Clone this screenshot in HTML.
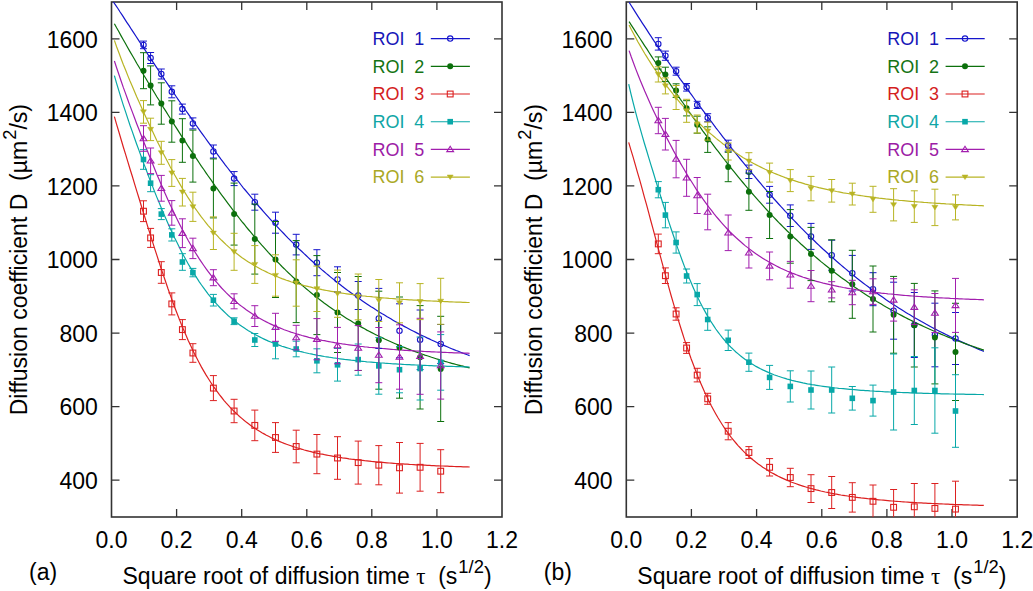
<!DOCTYPE html>
<html><head><meta charset="utf-8"><style>
html,body{margin:0;padding:0;background:#fff;}
svg{display:block;font-family:"Liberation Sans",sans-serif;}
</style></head><body>
<svg width="1033" height="591" viewBox="0 0 1033 591">
<rect width="1033" height="591" fill="#fff"/>
<rect x="111.5" y="2" width="390.5" height="515" fill="none" stroke="#333" stroke-width="1.6"/>
<text x="97.8" y="489.0" text-anchor="end" font-size="23">400</text>
<text x="97.8" y="415.4" text-anchor="end" font-size="23">600</text>
<text x="97.8" y="341.9" text-anchor="end" font-size="23">800</text>
<text x="97.8" y="268.3" text-anchor="end" font-size="23">1000</text>
<text x="97.8" y="194.7" text-anchor="end" font-size="23">1200</text>
<text x="97.8" y="121.2" text-anchor="end" font-size="23">1400</text>
<text x="97.8" y="47.6" text-anchor="end" font-size="23">1600</text>
<text x="111.5" y="548.3" text-anchor="middle" font-size="23">0.0</text>
<text x="176.6" y="548.3" text-anchor="middle" font-size="23">0.2</text>
<text x="241.7" y="548.3" text-anchor="middle" font-size="23">0.4</text>
<text x="306.8" y="548.3" text-anchor="middle" font-size="23">0.6</text>
<text x="371.8" y="548.3" text-anchor="middle" font-size="23">0.8</text>
<text x="436.9" y="548.3" text-anchor="middle" font-size="23">1.0</text>
<text x="502.0" y="548.3" text-anchor="middle" font-size="23">1.2</text>
<path d="M111.5 480.2H119.5M502 480.2H494M111.5 406.6H119.5M502 406.6H494M111.5 333.1H119.5M502 333.1H494M111.5 259.5H119.5M502 259.5H494M111.5 185.9H119.5M502 185.9H494M111.5 112.4H119.5M502 112.4H494M111.5 38.8H119.5M502 38.8H494M176.6 517V509M176.6 2V10M241.7 517V509M241.7 2V10M306.8 517V509M306.8 2V10M371.8 517V509M371.8 2V10M436.9 517V509M436.9 2V10" stroke="#333" stroke-width="1.3" fill="none"/>
<rect x="626.3" y="2" width="390.9000000000001" height="515" fill="none" stroke="#333" stroke-width="1.6"/>
<text x="612.5999999999999" y="489.0" text-anchor="end" font-size="23">400</text>
<text x="612.5999999999999" y="415.4" text-anchor="end" font-size="23">600</text>
<text x="612.5999999999999" y="341.9" text-anchor="end" font-size="23">800</text>
<text x="612.5999999999999" y="268.3" text-anchor="end" font-size="23">1000</text>
<text x="612.5999999999999" y="194.7" text-anchor="end" font-size="23">1200</text>
<text x="612.5999999999999" y="121.2" text-anchor="end" font-size="23">1400</text>
<text x="612.5999999999999" y="47.6" text-anchor="end" font-size="23">1600</text>
<text x="626.3" y="548.3" text-anchor="middle" font-size="23">0.0</text>
<text x="691.4" y="548.3" text-anchor="middle" font-size="23">0.2</text>
<text x="756.6" y="548.3" text-anchor="middle" font-size="23">0.4</text>
<text x="821.8" y="548.3" text-anchor="middle" font-size="23">0.6</text>
<text x="886.9" y="548.3" text-anchor="middle" font-size="23">0.8</text>
<text x="952.0" y="548.3" text-anchor="middle" font-size="23">1.0</text>
<text x="1017.2" y="548.3" text-anchor="middle" font-size="23">1.2</text>
<path d="M626.3 480.2H634.3M1017.2 480.2H1009.2M626.3 406.6H634.3M1017.2 406.6H1009.2M626.3 333.1H634.3M1017.2 333.1H1009.2M626.3 259.5H634.3M1017.2 259.5H1009.2M626.3 185.9H634.3M1017.2 185.9H1009.2M626.3 112.4H634.3M1017.2 112.4H1009.2M626.3 38.8H634.3M1017.2 38.8H1009.2M691.4 517V509M691.4 2V10M756.6 517V509M756.6 2V10M821.8 517V509M821.8 2V10M886.9 517V509M886.9 2V10M952.0 517V509M952.0 2V10" stroke="#333" stroke-width="1.3" fill="none"/>
<path d="M113.4 2.0 L115.6 5.1 L117.9 8.5 L120.1 12.0 L122.4 15.4 L124.6 18.9 L126.8 22.3 L129.1 25.7 L131.3 29.2 L133.6 32.6 L135.8 36.0 L138.0 39.4 L140.3 42.8 L142.5 46.3 L144.8 49.7 L147.0 53.0 L149.2 56.4 L151.5 59.8 L153.7 63.2 L156.0 66.6 L158.2 69.9 L160.4 73.3 L162.7 76.6 L164.9 80.0 L167.2 83.3 L169.4 86.6 L171.6 89.9 L173.9 93.2 L176.1 96.5 L178.4 99.8 L180.6 103.0 L182.8 106.3 L185.1 109.5 L187.3 112.7 L189.6 115.9 L191.8 119.1 L194.0 122.3 L196.3 125.5 L198.5 128.6 L200.8 131.8 L203.0 134.9 L205.3 138.0 L207.5 141.1 L209.7 144.1 L212.0 147.2 L214.2 150.2 L216.5 153.2 L218.7 156.2 L220.9 159.2 L223.2 162.1 L225.4 165.1 L227.7 168.0 L229.9 170.9 L232.1 173.7 L234.4 176.6 L236.6 179.4 L238.9 182.2 L241.1 185.0 L243.3 187.8 L245.6 190.5 L247.8 193.2 L250.1 195.9 L252.3 198.6 L254.5 201.2 L256.8 203.9 L259.0 206.5 L261.3 209.0 L263.5 211.6 L265.7 214.1 L268.0 216.6 L270.2 219.1 L272.5 221.6 L274.7 224.0 L276.9 226.4 L279.2 228.8 L281.4 231.1 L283.7 233.5 L285.9 235.8 L288.1 238.1 L290.4 240.4 L292.6 242.6 L294.9 244.8 L297.1 247.0 L299.3 249.2 L301.6 251.3 L303.8 253.4 L306.1 255.5 L308.3 257.6 L310.5 259.7 L312.8 261.7 L315.0 263.7 L317.3 265.7 L319.5 267.6 L321.7 269.6 L324.0 271.5 L326.2 273.4 L328.5 275.2 L330.7 277.1 L332.9 278.9 L335.2 280.7 L337.4 282.5 L339.7 284.2 L341.9 286.0 L344.1 287.7 L346.4 289.4 L348.6 291.1 L350.9 292.7 L353.1 294.3 L355.3 296.0 L357.6 297.5 L359.8 299.1 L362.1 300.7 L364.3 302.2 L366.5 303.7 L368.8 305.2 L371.0 306.7 L373.3 308.1 L375.5 309.6 L377.7 311.0 L380.0 312.4 L382.2 313.8 L384.5 315.1 L386.7 316.5 L389.0 317.8 L391.2 319.1 L393.4 320.4 L395.7 321.7 L397.9 322.9 L400.2 324.2 L402.4 325.4 L404.6 326.6 L406.9 327.8 L409.1 329.0 L411.4 330.2 L413.6 331.3 L415.8 332.4 L418.1 333.6 L420.3 334.7 L422.6 335.8 L424.8 336.8 L427.0 337.9 L429.3 338.9 L431.5 340.0 L433.8 341.0 L436.0 342.0 L438.2 343.0 L440.5 344.0 L442.7 344.9 L445.0 345.9 L447.2 346.8 L449.4 347.8 L451.7 348.7 L453.9 349.6 L456.2 350.5 L458.4 351.3 L460.6 352.2 L462.9 353.1 L465.1 353.9 L467.4 354.8 L469.6 355.6" fill="none" stroke="#1616cc" stroke-width="1.2"/>
<path d="M114.4 23.7 L116.6 27.8 L118.9 31.8 L121.1 35.9 L123.3 39.8 L125.6 43.8 L127.8 47.7 L130.0 51.6 L132.3 55.5 L134.5 59.3 L136.7 63.2 L139.0 67.0 L141.2 70.7 L143.4 74.5 L145.7 78.2 L147.9 82.0 L150.1 85.7 L152.4 89.4 L154.6 93.0 L156.8 96.7 L159.1 100.3 L161.3 103.9 L163.5 107.6 L165.8 111.1 L168.0 114.7 L170.2 118.3 L172.5 121.8 L174.7 125.4 L177.0 128.9 L179.2 132.4 L181.4 135.8 L183.7 139.3 L185.9 142.7 L188.1 146.2 L190.4 149.6 L192.6 152.9 L194.8 156.3 L197.1 159.7 L199.3 163.0 L201.5 166.3 L203.8 169.5 L206.0 172.8 L208.2 176.0 L210.5 179.2 L212.7 182.4 L214.9 185.6 L217.2 188.7 L219.4 191.8 L221.6 194.9 L223.9 197.9 L226.1 200.9 L228.3 203.9 L230.6 206.9 L232.8 209.8 L235.0 212.7 L237.3 215.6 L239.5 218.5 L241.7 221.3 L244.0 224.0 L246.2 226.8 L248.4 229.5 L250.7 232.2 L252.9 234.9 L255.1 237.5 L257.4 240.1 L259.6 242.6 L261.8 245.2 L264.1 247.7 L266.3 250.1 L268.5 252.6 L270.8 255.0 L273.0 257.3 L275.2 259.7 L277.5 262.0 L279.7 264.2 L281.9 266.5 L284.2 268.7 L286.4 270.9 L288.6 273.0 L290.9 275.1 L293.1 277.2 L295.4 279.2 L297.6 281.3 L299.8 283.3 L302.1 285.2 L304.3 287.1 L306.5 289.0 L308.8 290.9 L311.0 292.7 L313.2 294.5 L315.5 296.3 L317.7 298.1 L319.9 299.8 L322.2 301.5 L324.4 303.2 L326.6 304.8 L328.9 306.4 L331.1 308.0 L333.3 309.6 L335.6 311.1 L337.8 312.6 L340.0 314.1 L342.3 315.6 L344.5 317.0 L346.7 318.4 L349.0 319.8 L351.2 321.1 L353.4 322.5 L355.7 323.8 L357.9 325.1 L360.1 326.4 L362.4 327.6 L364.6 328.8 L366.8 330.1 L369.1 331.2 L371.3 332.4 L373.5 333.5 L375.8 334.7 L378.0 335.8 L380.2 336.9 L382.5 337.9 L384.7 339.0 L386.9 340.0 L389.2 341.0 L391.4 342.0 L393.6 343.0 L395.9 344.0 L398.1 344.9 L400.3 345.8 L402.6 346.8 L404.8 347.6 L407.0 348.5 L409.3 349.4 L411.5 350.2 L413.8 351.1 L416.0 351.9 L418.2 352.7 L420.5 353.5 L422.7 354.3 L424.9 355.1 L427.2 355.8 L429.4 356.5 L431.6 357.3 L433.9 358.0 L436.1 358.7 L438.3 359.4 L440.6 360.1 L442.8 360.7 L445.0 361.4 L447.3 362.0 L449.5 362.7 L451.7 363.3 L454.0 363.9 L456.2 364.5 L458.4 365.1 L460.7 365.7 L462.9 366.2 L465.1 366.8 L467.4 367.4 L469.6 367.9" fill="none" stroke="#0c700c" stroke-width="1.2"/>
<path d="M114.4 116.6 L116.6 124.3 L118.9 132.0 L121.1 139.5 L123.3 147.0 L125.6 154.4 L127.8 161.7 L130.0 169.0 L132.3 176.3 L134.5 183.6 L136.7 190.9 L139.0 198.2 L141.2 205.5 L143.4 212.7 L145.7 219.9 L147.9 227.1 L150.2 234.3 L152.4 241.4 L154.6 248.4 L156.9 255.4 L159.1 262.3 L161.3 269.1 L163.6 275.8 L165.8 282.3 L168.0 288.8 L170.3 295.1 L172.5 301.3 L174.7 307.3 L177.0 313.2 L179.2 318.9 L181.4 324.5 L183.7 329.9 L185.9 335.1 L188.1 340.2 L190.4 345.1 L192.6 349.8 L194.8 354.4 L197.1 358.8 L199.3 363.0 L201.5 367.1 L203.8 371.1 L206.0 374.9 L208.3 378.5 L210.5 382.0 L212.7 385.4 L215.0 388.6 L217.2 391.7 L219.4 394.7 L221.7 397.5 L223.9 400.3 L226.1 402.9 L228.4 405.4 L230.6 407.8 L232.8 410.1 L235.1 412.3 L237.3 414.4 L239.5 416.5 L241.8 418.4 L244.0 420.3 L246.2 422.1 L248.5 423.8 L250.7 425.4 L252.9 427.0 L255.2 428.5 L257.4 429.9 L259.6 431.3 L261.9 432.7 L264.1 433.9 L266.4 435.2 L268.6 436.3 L270.8 437.5 L273.1 438.6 L275.3 439.6 L277.5 440.6 L279.8 441.6 L282.0 442.5 L284.2 443.4 L286.5 444.2 L288.7 445.0 L290.9 445.8 L293.2 446.6 L295.4 447.3 L297.6 448.0 L299.9 448.7 L302.1 449.3 L304.3 450.0 L306.6 450.6 L308.8 451.2 L311.0 451.7 L313.3 452.3 L315.5 452.8 L317.7 453.3 L320.0 453.8 L322.2 454.2 L324.5 454.7 L326.7 455.1 L328.9 455.5 L331.2 455.9 L333.4 456.3 L335.6 456.7 L337.9 457.1 L340.1 457.4 L342.3 457.8 L344.6 458.1 L346.8 458.4 L349.0 458.8 L351.3 459.1 L353.5 459.3 L355.7 459.6 L358.0 459.9 L360.2 460.2 L362.4 460.4 L364.7 460.7 L366.9 460.9 L369.1 461.1 L371.4 461.4 L373.6 461.6 L375.8 461.8 L378.1 462.0 L380.3 462.2 L382.6 462.4 L384.8 462.6 L387.0 462.8 L389.3 463.0 L391.5 463.1 L393.7 463.3 L396.0 463.5 L398.2 463.6 L400.4 463.8 L402.7 463.9 L404.9 464.1 L407.1 464.2 L409.4 464.4 L411.6 464.5 L413.8 464.6 L416.1 464.8 L418.3 464.9 L420.5 465.0 L422.8 465.1 L425.0 465.2 L427.2 465.3 L429.5 465.4 L431.7 465.6 L433.9 465.7 L436.2 465.8 L438.4 465.9 L440.7 466.0 L442.9 466.0 L445.1 466.1 L447.4 466.2 L449.6 466.3 L451.8 466.4 L454.1 466.5 L456.3 466.6 L458.5 466.6 L460.8 466.7 L463.0 466.8 L465.2 466.9 L467.5 466.9 L469.7 467.0" fill="none" stroke="#dc2020" stroke-width="1.2"/>
<path d="M114.4 75.7 L116.6 83.4 L118.9 90.9 L121.1 98.1 L123.3 105.1 L125.6 111.9 L127.8 118.6 L130.0 125.2 L132.3 131.6 L134.5 138.0 L136.7 144.2 L139.0 150.4 L141.2 156.5 L143.4 162.6 L145.7 168.5 L147.9 174.4 L150.1 180.2 L152.4 185.9 L154.6 191.6 L156.8 197.1 L159.1 202.6 L161.3 208.0 L163.5 213.2 L165.8 218.4 L168.0 223.5 L170.2 228.4 L172.5 233.3 L174.7 238.0 L177.0 242.6 L179.2 247.1 L181.4 251.4 L183.7 255.7 L185.9 259.8 L188.1 263.7 L190.4 267.6 L192.6 271.3 L194.8 274.9 L197.1 278.4 L199.3 281.8 L201.5 285.0 L203.8 288.2 L206.0 291.2 L208.2 294.1 L210.5 296.9 L212.7 299.6 L214.9 302.1 L217.2 304.6 L219.4 307.0 L221.6 309.3 L223.9 311.5 L226.1 313.6 L228.3 315.7 L230.6 317.6 L232.8 319.5 L235.0 321.3 L237.3 323.0 L239.5 324.7 L241.7 326.3 L244.0 327.8 L246.2 329.3 L248.4 330.7 L250.7 332.0 L252.9 333.3 L255.1 334.6 L257.4 335.8 L259.6 336.9 L261.8 338.0 L264.1 339.1 L266.3 340.1 L268.5 341.1 L270.8 342.0 L273.0 342.9 L275.2 343.8 L277.5 344.6 L279.7 345.4 L281.9 346.2 L284.2 346.9 L286.4 347.6 L288.6 348.3 L290.9 349.0 L293.1 349.6 L295.4 350.2 L297.6 350.8 L299.8 351.4 L302.1 351.9 L304.3 352.5 L306.5 353.0 L308.8 353.5 L311.0 353.9 L313.2 354.4 L315.5 354.8 L317.7 355.3 L319.9 355.7 L322.2 356.1 L324.4 356.5 L326.6 356.8 L328.9 357.2 L331.1 357.5 L333.3 357.9 L335.6 358.2 L337.8 358.5 L340.0 358.8 L342.3 359.1 L344.5 359.4 L346.7 359.6 L349.0 359.9 L351.2 360.2 L353.4 360.4 L355.7 360.7 L357.9 360.9 L360.1 361.1 L362.4 361.3 L364.6 361.5 L366.8 361.8 L369.1 362.0 L371.3 362.1 L373.5 362.3 L375.8 362.5 L378.0 362.7 L380.2 362.9 L382.5 363.0 L384.7 363.2 L386.9 363.3 L389.2 363.5 L391.4 363.7 L393.6 363.8 L395.9 363.9 L398.1 364.1 L400.3 364.2 L402.6 364.3 L404.8 364.5 L407.0 364.6 L409.3 364.7 L411.5 364.8 L413.8 364.9 L416.0 365.0 L418.2 365.1 L420.5 365.2 L422.7 365.3 L424.9 365.4 L427.2 365.5 L429.4 365.6 L431.6 365.7 L433.9 365.8 L436.1 365.9 L438.3 366.0 L440.6 366.1 L442.8 366.1 L445.0 366.2 L447.3 366.3 L449.5 366.4 L451.7 366.4 L454.0 366.5 L456.2 366.6 L458.4 366.7 L460.7 366.7 L462.9 366.8 L465.1 366.8 L467.4 366.9 L469.6 367.0" fill="none" stroke="#08a8a8" stroke-width="1.2"/>
<path d="M114.4 61.0 L116.6 67.8 L118.9 74.5 L121.1 81.0 L123.3 87.4 L125.6 93.6 L127.8 99.8 L130.0 105.9 L132.3 111.9 L134.5 117.8 L136.7 123.7 L139.0 129.5 L141.2 135.3 L143.4 141.0 L145.7 146.7 L147.9 152.3 L150.1 157.8 L152.4 163.3 L154.6 168.8 L156.8 174.2 L159.1 179.5 L161.3 184.7 L163.5 189.9 L165.8 194.9 L168.0 199.9 L170.2 204.8 L172.5 209.6 L174.7 214.3 L177.0 218.9 L179.2 223.4 L181.4 227.8 L183.7 232.1 L185.9 236.2 L188.1 240.3 L190.4 244.2 L192.6 248.1 L194.8 251.8 L197.1 255.4 L199.3 258.9 L201.5 262.2 L203.8 265.5 L206.0 268.7 L208.2 271.7 L210.5 274.7 L212.7 277.5 L214.9 280.3 L217.2 282.9 L219.4 285.5 L221.6 288.0 L223.9 290.3 L226.1 292.6 L228.3 294.8 L230.6 297.0 L232.8 299.0 L235.0 301.0 L237.3 302.9 L239.5 304.7 L241.7 306.4 L244.0 308.1 L246.2 309.8 L248.4 311.3 L250.7 312.8 L252.9 314.3 L255.1 315.7 L257.4 317.0 L259.6 318.3 L261.8 319.5 L264.1 320.7 L266.3 321.9 L268.5 323.0 L270.8 324.1 L273.0 325.1 L275.2 326.1 L277.5 327.0 L279.7 327.9 L281.9 328.8 L284.2 329.7 L286.4 330.5 L288.6 331.3 L290.9 332.1 L293.1 332.8 L295.4 333.5 L297.6 334.2 L299.8 334.8 L302.1 335.5 L304.3 336.1 L306.5 336.7 L308.8 337.3 L311.0 337.8 L313.2 338.3 L315.5 338.9 L317.7 339.4 L319.9 339.8 L322.2 340.3 L324.4 340.7 L326.6 341.2 L328.9 341.6 L331.1 342.0 L333.3 342.4 L335.6 342.8 L337.8 343.2 L340.0 343.5 L342.3 343.9 L344.5 344.2 L346.7 344.5 L349.0 344.8 L351.2 345.1 L353.4 345.4 L355.7 345.7 L357.9 346.0 L360.1 346.3 L362.4 346.5 L364.6 346.8 L366.8 347.0 L369.1 347.3 L371.3 347.5 L373.5 347.7 L375.8 347.9 L378.0 348.1 L380.2 348.3 L382.5 348.5 L384.7 348.7 L386.9 348.9 L389.2 349.1 L391.4 349.3 L393.6 349.5 L395.9 349.6 L398.1 349.8 L400.3 350.0 L402.6 350.1 L404.8 350.3 L407.0 350.4 L409.3 350.6 L411.5 350.7 L413.8 350.8 L416.0 351.0 L418.2 351.1 L420.5 351.2 L422.7 351.3 L424.9 351.5 L427.2 351.6 L429.4 351.7 L431.6 351.8 L433.9 351.9 L436.1 352.0 L438.3 352.1 L440.6 352.2 L442.8 352.3 L445.0 352.4 L447.3 352.5 L449.5 352.6 L451.7 352.7 L454.0 352.8 L456.2 352.8 L458.4 352.9 L460.7 353.0 L462.9 353.1 L465.1 353.2 L467.4 353.2 L469.6 353.3" fill="none" stroke="#a21eae" stroke-width="1.2"/>
<path d="M114.4 40.4 L116.6 46.7 L118.9 52.8 L121.1 58.7 L123.3 64.5 L125.6 70.1 L127.8 75.6 L130.0 81.0 L132.3 86.3 L134.5 91.5 L136.7 96.7 L139.0 101.8 L141.2 106.8 L143.4 111.8 L145.7 116.7 L147.9 121.5 L150.1 126.3 L152.4 131.1 L154.6 135.8 L156.8 140.4 L159.1 144.9 L161.3 149.5 L163.5 153.9 L165.8 158.3 L168.0 162.6 L170.2 166.8 L172.5 170.9 L174.7 175.0 L177.0 179.0 L179.2 182.9 L181.4 186.7 L183.7 190.5 L185.9 194.1 L188.1 197.7 L190.4 201.1 L192.6 204.5 L194.8 207.8 L197.1 211.0 L199.3 214.1 L201.5 217.1 L203.8 220.0 L206.0 222.8 L208.2 225.6 L210.5 228.2 L212.7 230.8 L214.9 233.3 L217.2 235.7 L219.4 238.1 L221.6 240.3 L223.9 242.5 L226.1 244.6 L228.3 246.6 L230.6 248.6 L232.8 250.5 L235.0 252.3 L237.3 254.0 L239.5 255.7 L241.7 257.4 L244.0 258.9 L246.2 260.5 L248.4 261.9 L250.7 263.3 L252.9 264.7 L255.1 266.0 L257.4 267.3 L259.6 268.5 L261.8 269.7 L264.1 270.8 L266.3 271.9 L268.5 273.0 L270.8 274.0 L273.0 275.0 L275.2 275.9 L277.5 276.8 L279.7 277.7 L281.9 278.6 L284.2 279.4 L286.4 280.2 L288.6 280.9 L290.9 281.7 L293.1 282.4 L295.4 283.1 L297.6 283.7 L299.8 284.4 L302.1 285.0 L304.3 285.6 L306.5 286.1 L308.8 286.7 L311.0 287.2 L313.2 287.8 L315.5 288.3 L317.7 288.7 L319.9 289.2 L322.2 289.7 L324.4 290.1 L326.6 290.5 L328.9 290.9 L331.1 291.3 L333.3 291.7 L335.6 292.1 L337.8 292.5 L340.0 292.8 L342.3 293.2 L344.5 293.5 L346.7 293.8 L349.0 294.1 L351.2 294.4 L353.4 294.7 L355.7 295.0 L357.9 295.3 L360.1 295.5 L362.4 295.8 L364.6 296.0 L366.8 296.3 L369.1 296.5 L371.3 296.7 L373.5 297.0 L375.8 297.2 L378.0 297.4 L380.2 297.6 L382.5 297.8 L384.7 298.0 L386.9 298.2 L389.2 298.4 L391.4 298.5 L393.6 298.7 L395.9 298.9 L398.1 299.0 L400.3 299.2 L402.6 299.3 L404.8 299.5 L407.0 299.6 L409.3 299.8 L411.5 299.9 L413.8 300.1 L416.0 300.2 L418.2 300.3 L420.5 300.4 L422.7 300.6 L424.9 300.7 L427.2 300.8 L429.4 300.9 L431.6 301.0 L433.9 301.1 L436.1 301.2 L438.3 301.3 L440.6 301.4 L442.8 301.5 L445.0 301.6 L447.3 301.7 L449.5 301.8 L451.7 301.9 L454.0 302.0 L456.2 302.1 L458.4 302.1 L460.7 302.2 L462.9 302.3 L465.1 302.4 L467.4 302.5 L469.6 302.5" fill="none" stroke="#b8b424" stroke-width="1.2"/>
<path d="M143.5 41.1V48.7M140.0 41.1H147.0M140.0 48.7H147.0M150.6 52.5V63.5M147.1 52.5H154.1M147.1 63.5H154.1M161.3 69.0V79.0M157.8 69.0H164.8M157.8 79.0H164.8M171.8 85.8V97.8M168.3 85.8H175.3M168.3 97.8H175.3M182.4 104.1V114.1M178.9 104.1H185.9M178.9 114.1H185.9M192.9 117.9V128.9M189.4 117.9H196.4M189.4 128.9H196.4M213.4 145.0V158.0M209.9 145.0H216.9M209.9 158.0H216.9M234.1 171.6V185.6M230.6 171.6H237.6M230.6 185.6H237.6M254.8 194.2V210.2M251.3 194.2H258.3M251.3 210.2H258.3M275.5 212.2V233.2M272.0 212.2H279.0M272.0 233.2H279.0M296.2 234.3V254.9M292.7 234.3H299.7M292.7 254.9H299.7M316.9 249.7V275.7M313.4 249.7H320.4M313.4 275.7H320.4M337.5 266.8V292.0M334.0 266.8H341.0M334.0 292.0H341.0M358.2 281.5V309.5M354.7 281.5H361.7M354.7 309.5H361.7M378.8 288.4V348.4M375.3 288.4H382.3M375.3 348.4H382.3M399.5 303.8V357.8M396.0 303.8H403.0M396.0 357.8H403.0M420.1 310.0V369.6M416.6 310.0H423.6M416.6 369.6H423.6M440.7 324.5V363.5M437.2 324.5H444.2M437.2 363.5H444.2" fill="none" stroke="#1616cc" stroke-width="1.0"/>
<circle cx="143.5" cy="44.9" r="2.7" fill="none" stroke="#1616cc" stroke-width="1.1"/>
<circle cx="150.6" cy="58.0" r="2.7" fill="none" stroke="#1616cc" stroke-width="1.1"/>
<circle cx="161.3" cy="74.0" r="2.7" fill="none" stroke="#1616cc" stroke-width="1.1"/>
<circle cx="171.8" cy="91.8" r="2.7" fill="none" stroke="#1616cc" stroke-width="1.1"/>
<circle cx="182.4" cy="109.1" r="2.7" fill="none" stroke="#1616cc" stroke-width="1.1"/>
<circle cx="192.9" cy="123.4" r="2.7" fill="none" stroke="#1616cc" stroke-width="1.1"/>
<circle cx="213.4" cy="151.5" r="2.7" fill="none" stroke="#1616cc" stroke-width="1.1"/>
<circle cx="234.1" cy="178.6" r="2.7" fill="none" stroke="#1616cc" stroke-width="1.1"/>
<circle cx="254.8" cy="202.2" r="2.7" fill="none" stroke="#1616cc" stroke-width="1.1"/>
<circle cx="275.5" cy="222.7" r="2.7" fill="none" stroke="#1616cc" stroke-width="1.1"/>
<circle cx="296.2" cy="244.6" r="2.7" fill="none" stroke="#1616cc" stroke-width="1.1"/>
<circle cx="316.9" cy="262.7" r="2.7" fill="none" stroke="#1616cc" stroke-width="1.1"/>
<circle cx="337.5" cy="279.4" r="2.7" fill="none" stroke="#1616cc" stroke-width="1.1"/>
<circle cx="358.2" cy="295.5" r="2.7" fill="none" stroke="#1616cc" stroke-width="1.1"/>
<circle cx="378.8" cy="318.4" r="2.7" fill="none" stroke="#1616cc" stroke-width="1.1"/>
<circle cx="399.5" cy="330.8" r="2.7" fill="none" stroke="#1616cc" stroke-width="1.1"/>
<circle cx="420.1" cy="339.8" r="2.7" fill="none" stroke="#1616cc" stroke-width="1.1"/>
<circle cx="440.7" cy="344.0" r="2.7" fill="none" stroke="#1616cc" stroke-width="1.1"/>
<path d="M143.5 52.7V88.7M140.0 52.7H147.0M140.0 88.7H147.0M150.6 65.9V104.9M147.1 65.9H154.1M147.1 104.9H154.1M161.3 82.8V124.2M157.8 82.8H164.8M157.8 124.2H164.8M171.8 100.8V142.2M168.3 100.8H175.3M168.3 142.2H175.3M182.4 118.7V162.3M178.9 118.7H185.9M178.9 162.3H185.9M192.9 130.1V182.1M189.4 130.1H196.4M189.4 182.1H196.4M213.4 158.9V217.9M209.9 158.9H216.9M209.9 217.9H216.9M234.1 183.1V245.1M230.6 183.1H237.6M230.6 245.1H237.6M254.8 204.1V274.1M251.3 204.1H258.3M251.3 274.1H258.3M275.5 221.5V297.5M272.0 221.5H279.0M272.0 297.5H279.0M296.2 240.6V322.6M292.7 240.6H299.7M292.7 322.6H299.7M316.9 255.6V334.6M313.4 255.6H320.4M313.4 334.6H320.4M337.5 272.5V352.5M334.0 272.5H341.0M334.0 352.5H341.0M358.2 276.5V370.5M354.7 276.5H361.7M354.7 370.5H361.7M378.8 291.2V389.2M375.3 291.2H382.3M375.3 389.2H382.3M399.5 297.0V398.2M396.0 297.0H403.0M396.0 398.2H403.0M420.1 305.6V409.0M416.6 305.6H423.6M416.6 409.0H423.6M440.7 316.3V421.5M437.2 316.3H444.2M437.2 421.5H444.2" fill="none" stroke="#0c700c" stroke-width="1.0"/>
<circle cx="143.5" cy="70.7" r="3.0" fill="#0c700c"/>
<circle cx="150.6" cy="85.4" r="3.0" fill="#0c700c"/>
<circle cx="161.3" cy="103.5" r="3.0" fill="#0c700c"/>
<circle cx="171.8" cy="121.5" r="3.0" fill="#0c700c"/>
<circle cx="182.4" cy="140.5" r="3.0" fill="#0c700c"/>
<circle cx="192.9" cy="156.1" r="3.0" fill="#0c700c"/>
<circle cx="213.4" cy="188.4" r="3.0" fill="#0c700c"/>
<circle cx="234.1" cy="214.1" r="3.0" fill="#0c700c"/>
<circle cx="254.8" cy="239.1" r="3.0" fill="#0c700c"/>
<circle cx="275.5" cy="259.5" r="3.0" fill="#0c700c"/>
<circle cx="296.2" cy="281.6" r="3.0" fill="#0c700c"/>
<circle cx="316.9" cy="295.1" r="3.0" fill="#0c700c"/>
<circle cx="337.5" cy="312.5" r="3.0" fill="#0c700c"/>
<circle cx="358.2" cy="323.5" r="3.0" fill="#0c700c"/>
<circle cx="378.8" cy="340.2" r="3.0" fill="#0c700c"/>
<circle cx="399.5" cy="347.6" r="3.0" fill="#0c700c"/>
<circle cx="420.1" cy="357.3" r="3.0" fill="#0c700c"/>
<circle cx="440.7" cy="368.9" r="3.0" fill="#0c700c"/>
<path d="M143.5 200.8V221.6M140.0 200.8H147.0M140.0 221.6H147.0M150.6 228.4V247.4M147.1 228.4H154.1M147.1 247.4H154.1M161.3 261.7V283.3M157.8 261.7H164.8M157.8 283.3H164.8M171.8 292.9V314.9M168.3 292.9H175.3M168.3 314.9H175.3M182.4 319.6V339.6M178.9 319.6H185.9M178.9 339.6H185.9M192.9 343.7V362.3M189.4 343.7H196.4M189.4 362.3H196.4M213.4 375.6V400.6M209.9 375.6H216.9M209.9 400.6H216.9M234.1 399.3V422.7M230.6 399.3H237.6M230.6 422.7H237.6M254.8 410.1V440.7M251.3 410.1H258.3M251.3 440.7H258.3M275.5 422.6V452.4M272.0 422.6H279.0M272.0 452.4H279.0M296.2 430.2V462.8M292.7 430.2H299.7M292.7 462.8H299.7M316.9 434.5V473.7M313.4 434.5H320.4M313.4 473.7H320.4M337.5 436.7V479.3M334.0 436.7H341.0M334.0 479.3H341.0M358.2 441.1V484.1M354.7 441.1H361.7M354.7 484.1H361.7M378.8 445.6V484.8M375.3 445.6H382.3M375.3 484.8H382.3M399.5 442.5V493.1M396.0 442.5H403.0M396.0 493.1H403.0M420.1 443.4V491.2M416.6 443.4H423.6M416.6 491.2H423.6M440.7 449.7V492.7M437.2 449.7H444.2M437.2 492.7H444.2" fill="none" stroke="#dc2020" stroke-width="1.0"/>
<rect x="140.6" y="208.3" width="5.8" height="5.8" fill="none" stroke="#dc2020" stroke-width="1.1"/>
<rect x="147.7" y="235.0" width="5.8" height="5.8" fill="none" stroke="#dc2020" stroke-width="1.1"/>
<rect x="158.4" y="269.6" width="5.8" height="5.8" fill="none" stroke="#dc2020" stroke-width="1.1"/>
<rect x="168.9" y="301.0" width="5.8" height="5.8" fill="none" stroke="#dc2020" stroke-width="1.1"/>
<rect x="179.5" y="326.7" width="5.8" height="5.8" fill="none" stroke="#dc2020" stroke-width="1.1"/>
<rect x="190.0" y="350.1" width="5.8" height="5.8" fill="none" stroke="#dc2020" stroke-width="1.1"/>
<rect x="210.5" y="385.2" width="5.8" height="5.8" fill="none" stroke="#dc2020" stroke-width="1.1"/>
<rect x="231.2" y="408.1" width="5.8" height="5.8" fill="none" stroke="#dc2020" stroke-width="1.1"/>
<rect x="251.9" y="422.5" width="5.8" height="5.8" fill="none" stroke="#dc2020" stroke-width="1.1"/>
<rect x="272.6" y="434.6" width="5.8" height="5.8" fill="none" stroke="#dc2020" stroke-width="1.1"/>
<rect x="293.3" y="443.6" width="5.8" height="5.8" fill="none" stroke="#dc2020" stroke-width="1.1"/>
<rect x="314.0" y="451.2" width="5.8" height="5.8" fill="none" stroke="#dc2020" stroke-width="1.1"/>
<rect x="334.6" y="455.1" width="5.8" height="5.8" fill="none" stroke="#dc2020" stroke-width="1.1"/>
<rect x="355.3" y="459.7" width="5.8" height="5.8" fill="none" stroke="#dc2020" stroke-width="1.1"/>
<rect x="375.9" y="462.3" width="5.8" height="5.8" fill="none" stroke="#dc2020" stroke-width="1.1"/>
<rect x="396.6" y="464.9" width="5.8" height="5.8" fill="none" stroke="#dc2020" stroke-width="1.1"/>
<rect x="417.2" y="464.4" width="5.8" height="5.8" fill="none" stroke="#dc2020" stroke-width="1.1"/>
<rect x="437.8" y="468.3" width="5.8" height="5.8" fill="none" stroke="#dc2020" stroke-width="1.1"/>
<path d="M143.5 149.7V169.3M140.0 149.7H147.0M140.0 169.3H147.0M150.6 174.7V191.7M147.1 174.7H154.1M147.1 191.7H154.1M161.3 208.6V219.6M157.8 208.6H164.8M157.8 219.6H164.8M171.8 228.8V241.0M168.3 228.8H175.3M168.3 241.0H175.3M182.4 253.7V270.3M178.9 253.7H185.9M178.9 270.3H185.9M192.9 268.4V276.8M189.4 268.4H196.4M189.4 276.8H196.4M213.4 294.4V306.0M209.9 294.4H216.9M209.9 306.0H216.9M234.1 317.8V324.6M230.6 317.8H237.6M230.6 324.6H237.6M254.8 333.5V346.5M251.3 333.5H258.3M251.3 346.5H258.3M275.5 329.2V358.8M272.0 329.2H279.0M272.0 358.8H279.0M296.2 341.2V356.8M292.7 341.2H299.7M292.7 356.8H299.7M316.9 348.8V372.8M313.4 348.8H320.4M313.4 372.8H320.4M337.5 348.5V381.1M334.0 348.5H341.0M334.0 381.1H341.0M358.2 344.0V375.2M354.7 344.0H361.7M354.7 375.2H361.7M378.8 337.6V394.2M375.3 337.6H382.3M375.3 394.2H382.3M399.5 346.6V392.8M396.0 346.6H403.0M396.0 392.8H403.0M420.1 337.0V400.0M416.6 337.0H423.6M416.6 400.0H423.6M440.7 334.6V390.2M437.2 334.6H444.2M437.2 390.2H444.2" fill="none" stroke="#08a8a8" stroke-width="1.0"/>
<rect x="140.7" y="156.7" width="5.6" height="5.6" fill="#08a8a8"/>
<rect x="147.8" y="180.4" width="5.6" height="5.6" fill="#08a8a8"/>
<rect x="158.5" y="211.3" width="5.6" height="5.6" fill="#08a8a8"/>
<rect x="169.0" y="232.1" width="5.6" height="5.6" fill="#08a8a8"/>
<rect x="179.6" y="259.2" width="5.6" height="5.6" fill="#08a8a8"/>
<rect x="190.1" y="269.8" width="5.6" height="5.6" fill="#08a8a8"/>
<rect x="210.6" y="297.4" width="5.6" height="5.6" fill="#08a8a8"/>
<rect x="231.3" y="318.4" width="5.6" height="5.6" fill="#08a8a8"/>
<rect x="252.0" y="337.2" width="5.6" height="5.6" fill="#08a8a8"/>
<rect x="272.7" y="341.2" width="5.6" height="5.6" fill="#08a8a8"/>
<rect x="293.4" y="346.2" width="5.6" height="5.6" fill="#08a8a8"/>
<rect x="314.1" y="358.0" width="5.6" height="5.6" fill="#08a8a8"/>
<rect x="334.7" y="362.0" width="5.6" height="5.6" fill="#08a8a8"/>
<rect x="355.4" y="356.8" width="5.6" height="5.6" fill="#08a8a8"/>
<rect x="376.0" y="363.1" width="5.6" height="5.6" fill="#08a8a8"/>
<rect x="396.7" y="366.9" width="5.6" height="5.6" fill="#08a8a8"/>
<rect x="417.3" y="365.7" width="5.6" height="5.6" fill="#08a8a8"/>
<rect x="437.9" y="359.6" width="5.6" height="5.6" fill="#08a8a8"/>
<path d="M143.5 125.7V151.3M140.0 125.7H147.0M140.0 151.3H147.0M150.6 148.0V173.6M147.1 148.0H154.1M147.1 173.6H154.1M161.3 175.4V201.2M157.8 175.4H164.8M157.8 201.2H164.8M171.8 200.6V225.2M168.3 200.6H175.3M168.3 225.2H175.3M182.4 218.8V247.6M178.9 218.8H185.9M178.9 247.6H185.9M192.9 238.2V258.6M189.4 238.2H196.4M189.4 258.6H196.4M213.4 269.7V285.7M209.9 269.7H216.9M209.9 285.7H216.9M234.1 293.8V308.8M230.6 293.8H237.6M230.6 308.8H237.6M254.8 305.7V326.5M251.3 305.7H258.3M251.3 326.5H258.3M275.5 313.3V341.3M272.0 313.3H279.0M272.0 341.3H279.0M296.2 325.3V349.9M292.7 325.3H299.7M292.7 349.9H299.7M316.9 318.6V359.8M313.4 318.6H320.4M313.4 359.8H320.4M337.5 327.4V363.8M334.0 327.4H341.0M334.0 363.8H341.0M358.2 325.6V370.4M354.7 325.6H361.7M354.7 370.4H361.7M378.8 327.5V382.7M375.3 327.5H382.3M375.3 382.7H382.3M399.5 324.8V389.2M396.0 324.8H403.0M396.0 389.2H403.0M420.1 318.3V394.3M416.6 318.3H423.6M416.6 394.3H423.6M440.7 331.9V399.1M437.2 331.9H444.2M437.2 399.1H444.2" fill="none" stroke="#a21eae" stroke-width="1.0"/>
<path d="M143.5 135.4L146.9 140.7L140.1 140.7Z" fill="none" stroke="#a21eae" stroke-width="1.1" stroke-linejoin="miter"/>
<path d="M150.6 157.7L154.0 163.0L147.2 163.0Z" fill="none" stroke="#a21eae" stroke-width="1.1" stroke-linejoin="miter"/>
<path d="M161.3 185.2L164.7 190.5L157.9 190.5Z" fill="none" stroke="#a21eae" stroke-width="1.1" stroke-linejoin="miter"/>
<path d="M171.8 209.8L175.2 215.1L168.4 215.1Z" fill="none" stroke="#a21eae" stroke-width="1.1" stroke-linejoin="miter"/>
<path d="M182.4 230.1L185.8 235.4L179.0 235.4Z" fill="none" stroke="#a21eae" stroke-width="1.1" stroke-linejoin="miter"/>
<path d="M192.9 245.3L196.3 250.6L189.5 250.6Z" fill="none" stroke="#a21eae" stroke-width="1.1" stroke-linejoin="miter"/>
<path d="M213.4 274.6L216.8 279.9L210.0 279.9Z" fill="none" stroke="#a21eae" stroke-width="1.1" stroke-linejoin="miter"/>
<path d="M234.1 298.2L237.5 303.5L230.7 303.5Z" fill="none" stroke="#a21eae" stroke-width="1.1" stroke-linejoin="miter"/>
<path d="M254.8 313.0L258.2 318.3L251.4 318.3Z" fill="none" stroke="#a21eae" stroke-width="1.1" stroke-linejoin="miter"/>
<path d="M275.5 324.2L278.9 329.5L272.1 329.5Z" fill="none" stroke="#a21eae" stroke-width="1.1" stroke-linejoin="miter"/>
<path d="M296.2 334.5L299.6 339.8L292.8 339.8Z" fill="none" stroke="#a21eae" stroke-width="1.1" stroke-linejoin="miter"/>
<path d="M316.9 336.1L320.3 341.4L313.5 341.4Z" fill="none" stroke="#a21eae" stroke-width="1.1" stroke-linejoin="miter"/>
<path d="M337.5 342.5L340.9 347.8L334.1 347.8Z" fill="none" stroke="#a21eae" stroke-width="1.1" stroke-linejoin="miter"/>
<path d="M358.2 344.9L361.6 350.2L354.8 350.2Z" fill="none" stroke="#a21eae" stroke-width="1.1" stroke-linejoin="miter"/>
<path d="M378.8 352.0L382.2 357.3L375.4 357.3Z" fill="none" stroke="#a21eae" stroke-width="1.1" stroke-linejoin="miter"/>
<path d="M399.5 353.9L402.9 359.2L396.1 359.2Z" fill="none" stroke="#a21eae" stroke-width="1.1" stroke-linejoin="miter"/>
<path d="M420.1 353.2L423.5 358.5L416.7 358.5Z" fill="none" stroke="#a21eae" stroke-width="1.1" stroke-linejoin="miter"/>
<path d="M440.7 362.4L444.1 367.7L437.3 367.7Z" fill="none" stroke="#a21eae" stroke-width="1.1" stroke-linejoin="miter"/>
<path d="M143.5 100.6V123.2M140.0 100.6H147.0M140.0 123.2H147.0M150.6 118.2V140.6M147.1 118.2H154.1M147.1 140.6H154.1M161.3 141.3V164.3M157.8 141.3H164.8M157.8 164.3H164.8M171.8 159.6V186.4M168.3 159.6H175.3M168.3 186.4H175.3M182.4 178.4V206.0M178.9 178.4H185.9M178.9 206.0H185.9M192.9 192.2V221.4M189.4 192.2H196.4M189.4 221.4H196.4M213.4 216.9V249.5M209.9 216.9H216.9M209.9 249.5H216.9M234.1 233.3V270.3M230.6 233.3H237.6M230.6 270.3H237.6M254.8 245.6V283.4M251.3 245.6H258.3M251.3 283.4H258.3M275.5 254.8V296.2M272.0 254.8H279.0M272.0 296.2H279.0M296.2 259.8V306.2M292.7 259.8H299.7M292.7 306.2H299.7M316.9 266.1V311.5M313.4 266.1H320.4M313.4 311.5H320.4M337.5 270.1V317.3M334.0 270.1H341.0M334.0 317.3H341.0M358.2 274.0V319.8M354.7 274.0H361.7M354.7 319.8H361.7M378.8 279.5V321.5M375.3 279.5H382.3M375.3 321.5H382.3M399.5 282.8V322.8M396.0 282.8H403.0M396.0 322.8H403.0M420.1 283.6V319.6M416.6 283.6H423.6M416.6 319.6H423.6M440.7 278.3V324.3M437.2 278.3H444.2M437.2 324.3H444.2" fill="none" stroke="#b8b424" stroke-width="1.0"/>
<path d="M143.5 114.4L146.5 109.8L140.5 109.8Z" fill="#b8b424" stroke="#b8b424" stroke-width="0.5"/>
<path d="M150.6 131.9L153.6 127.3L147.6 127.3Z" fill="#b8b424" stroke="#b8b424" stroke-width="0.5"/>
<path d="M161.3 155.3L164.3 150.7L158.3 150.7Z" fill="#b8b424" stroke="#b8b424" stroke-width="0.5"/>
<path d="M171.8 175.5L174.8 170.9L168.8 170.9Z" fill="#b8b424" stroke="#b8b424" stroke-width="0.5"/>
<path d="M182.4 194.7L185.4 190.1L179.4 190.1Z" fill="#b8b424" stroke="#b8b424" stroke-width="0.5"/>
<path d="M192.9 209.3L195.9 204.7L189.9 204.7Z" fill="#b8b424" stroke="#b8b424" stroke-width="0.5"/>
<path d="M213.4 235.7L216.4 231.1L210.4 231.1Z" fill="#b8b424" stroke="#b8b424" stroke-width="0.5"/>
<path d="M234.1 254.3L237.1 249.7L231.1 249.7Z" fill="#b8b424" stroke="#b8b424" stroke-width="0.5"/>
<path d="M254.8 267.0L257.8 262.4L251.8 262.4Z" fill="#b8b424" stroke="#b8b424" stroke-width="0.5"/>
<path d="M275.5 278.0L278.5 273.4L272.5 273.4Z" fill="#b8b424" stroke="#b8b424" stroke-width="0.5"/>
<path d="M296.2 285.5L299.2 280.9L293.2 280.9Z" fill="#b8b424" stroke="#b8b424" stroke-width="0.5"/>
<path d="M316.9 291.3L319.9 286.7L313.9 286.7Z" fill="#b8b424" stroke="#b8b424" stroke-width="0.5"/>
<path d="M337.5 296.2L340.5 291.6L334.5 291.6Z" fill="#b8b424" stroke="#b8b424" stroke-width="0.5"/>
<path d="M358.2 299.4L361.2 294.8L355.2 294.8Z" fill="#b8b424" stroke="#b8b424" stroke-width="0.5"/>
<path d="M378.8 303.0L381.8 298.4L375.8 298.4Z" fill="#b8b424" stroke="#b8b424" stroke-width="0.5"/>
<path d="M399.5 305.3L402.5 300.7L396.5 300.7Z" fill="#b8b424" stroke="#b8b424" stroke-width="0.5"/>
<path d="M420.1 304.1L423.1 299.5L417.1 299.5Z" fill="#b8b424" stroke="#b8b424" stroke-width="0.5"/>
<path d="M440.7 303.8L443.7 299.2L437.7 299.2Z" fill="#b8b424" stroke="#b8b424" stroke-width="0.5"/>
<path d="M629.1 2.2 L631.3 5.8 L633.6 9.4 L635.8 12.9 L638.0 16.4 L640.3 19.9 L642.5 23.3 L644.7 26.7 L647.0 30.2 L649.2 33.6 L651.4 36.9 L653.6 40.3 L655.9 43.6 L658.1 46.9 L660.3 50.2 L662.6 53.5 L664.8 56.8 L667.0 60.1 L669.3 63.3 L671.5 66.5 L673.7 69.7 L676.0 72.9 L678.2 76.1 L680.4 79.3 L682.7 82.4 L684.9 85.6 L687.1 88.7 L689.3 91.8 L691.6 94.9 L693.8 98.0 L696.0 101.1 L698.3 104.1 L700.5 107.2 L702.7 110.2 L705.0 113.2 L707.2 116.2 L709.4 119.2 L711.7 122.2 L713.9 125.1 L716.1 128.1 L718.4 131.0 L720.6 133.9 L722.8 136.8 L725.1 139.7 L727.3 142.6 L729.5 145.4 L731.7 148.3 L734.0 151.1 L736.2 153.9 L738.4 156.7 L740.7 159.5 L742.9 162.2 L745.1 164.9 L747.4 167.7 L749.6 170.4 L751.8 173.1 L754.1 175.7 L756.3 178.4 L758.5 181.0 L760.8 183.7 L763.0 186.3 L765.2 188.8 L767.4 191.4 L769.7 194.0 L771.9 196.5 L774.1 199.0 L776.4 201.5 L778.6 204.0 L780.8 206.4 L783.1 208.8 L785.3 211.3 L787.5 213.6 L789.8 216.0 L792.0 218.4 L794.2 220.7 L796.5 223.0 L798.7 225.3 L800.9 227.6 L803.2 229.9 L805.4 232.1 L807.6 234.3 L809.8 236.5 L812.1 238.7 L814.3 240.8 L816.5 243.0 L818.8 245.1 L821.0 247.2 L823.2 249.3 L825.5 251.3 L827.7 253.3 L829.9 255.4 L832.2 257.4 L834.4 259.3 L836.6 261.3 L838.9 263.2 L841.1 265.1 L843.3 267.0 L845.6 268.9 L847.8 270.8 L850.0 272.6 L852.2 274.4 L854.5 276.2 L856.7 278.0 L858.9 279.7 L861.2 281.5 L863.4 283.2 L865.6 284.9 L867.9 286.6 L870.1 288.2 L872.3 289.9 L874.6 291.5 L876.8 293.1 L879.0 294.7 L881.3 296.3 L883.5 297.8 L885.7 299.4 L887.9 300.9 L890.2 302.4 L892.4 303.9 L894.6 305.3 L896.9 306.8 L899.1 308.2 L901.3 309.6 L903.6 311.0 L905.8 312.4 L908.0 313.8 L910.3 315.1 L912.5 316.4 L914.7 317.7 L917.0 319.0 L919.2 320.3 L921.4 321.6 L923.7 322.8 L925.9 324.1 L928.1 325.3 L930.3 326.5 L932.6 327.7 L934.8 328.9 L937.0 330.0 L939.3 331.2 L941.5 332.3 L943.7 333.4 L946.0 334.5 L948.2 335.6 L950.4 336.7 L952.7 337.8 L954.9 338.8 L957.1 339.9 L959.4 340.9 L961.6 341.9 L963.8 342.9 L966.0 343.9 L968.3 344.9 L970.5 345.8 L972.7 346.8 L975.0 347.7 L977.2 348.6 L979.4 349.6 L981.7 350.5 L983.9 351.4" fill="none" stroke="#1616cc" stroke-width="1.2"/>
<path d="M629.1 21.7 L631.3 25.1 L633.6 28.6 L635.8 32.1 L638.0 35.5 L640.3 39.0 L642.5 42.4 L644.7 45.8 L647.0 49.2 L649.2 52.7 L651.4 56.1 L653.6 59.5 L655.9 62.8 L658.1 66.2 L660.3 69.6 L662.6 72.9 L664.8 76.3 L667.0 79.6 L669.3 82.9 L671.5 86.2 L673.7 89.5 L676.0 92.8 L678.2 96.0 L680.4 99.3 L682.7 102.5 L684.9 105.7 L687.1 108.9 L689.3 112.1 L691.6 115.2 L693.8 118.4 L696.0 121.5 L698.3 124.6 L700.5 127.7 L702.7 130.8 L705.0 133.8 L707.2 136.9 L709.4 139.9 L711.7 142.9 L713.9 145.9 L716.1 148.8 L718.4 151.7 L720.6 154.7 L722.8 157.5 L725.1 160.4 L727.3 163.3 L729.5 166.1 L731.7 168.9 L734.0 171.7 L736.2 174.4 L738.4 177.1 L740.7 179.8 L742.9 182.5 L745.1 185.2 L747.4 187.8 L749.6 190.4 L751.8 193.0 L754.1 195.6 L756.3 198.1 L758.5 200.7 L760.8 203.2 L763.0 205.6 L765.2 208.1 L767.4 210.5 L769.7 212.9 L771.9 215.3 L774.1 217.6 L776.4 220.0 L778.6 222.3 L780.8 224.5 L783.1 226.8 L785.3 229.0 L787.5 231.2 L789.8 233.4 L792.0 235.6 L794.2 237.7 L796.5 239.8 L798.7 241.9 L800.9 244.0 L803.2 246.0 L805.4 248.0 L807.6 250.0 L809.8 252.0 L812.1 254.0 L814.3 255.9 L816.5 257.8 L818.8 259.7 L821.0 261.6 L823.2 263.4 L825.5 265.2 L827.7 267.0 L829.9 268.8 L832.2 270.5 L834.4 272.3 L836.6 274.0 L838.9 275.7 L841.1 277.4 L843.3 279.0 L845.6 280.6 L847.8 282.2 L850.0 283.8 L852.2 285.4 L854.5 287.0 L856.7 288.5 L858.9 290.0 L861.2 291.5 L863.4 293.0 L865.6 294.4 L867.9 295.9 L870.1 297.3 L872.3 298.7 L874.6 300.1 L876.8 301.5 L879.0 302.8 L881.3 304.1 L883.5 305.5 L885.7 306.8 L887.9 308.0 L890.2 309.3 L892.4 310.6 L894.6 311.8 L896.9 313.0 L899.1 314.2 L901.3 315.4 L903.6 316.6 L905.8 317.7 L908.0 318.9 L910.3 320.0 L912.5 321.1 L914.7 322.2 L917.0 323.3 L919.2 324.4 L921.4 325.4 L923.7 326.5 L925.9 327.5 L928.1 328.5 L930.3 329.5 L932.6 330.5 L934.8 331.5 L937.0 332.5 L939.3 333.4 L941.5 334.4 L943.7 335.3 L946.0 336.2 L948.2 337.1 L950.4 338.0 L952.7 338.9 L954.9 339.8 L957.1 340.6 L959.4 341.5 L961.6 342.3 L963.8 343.1 L966.0 343.9 L968.3 344.8 L970.5 345.5 L972.7 346.3 L975.0 347.1 L977.2 347.9 L979.4 348.6 L981.7 349.4 L983.9 350.1" fill="none" stroke="#0c700c" stroke-width="1.2"/>
<path d="M628.7 142.4 L630.9 149.8 L633.2 157.4 L635.4 165.1 L637.6 172.8 L639.9 180.7 L642.1 188.7 L644.3 196.8 L646.6 204.9 L648.8 213.2 L651.0 221.5 L653.3 229.8 L655.5 238.2 L657.7 246.5 L660.0 254.9 L662.2 263.2 L664.4 271.4 L666.7 279.6 L668.9 287.6 L671.1 295.5 L673.4 303.3 L675.6 310.9 L677.8 318.4 L680.1 325.7 L682.3 332.7 L684.5 339.6 L686.8 346.3 L689.0 352.8 L691.2 359.0 L693.5 365.0 L695.7 370.9 L697.9 376.5 L700.2 381.9 L702.4 387.0 L704.6 392.0 L706.9 396.8 L709.1 401.4 L711.3 405.8 L713.6 410.0 L715.8 414.0 L718.0 417.8 L720.3 421.5 L722.5 425.0 L724.7 428.4 L727.0 431.6 L729.2 434.7 L731.4 437.6 L733.7 440.4 L735.9 443.0 L738.1 445.6 L740.4 448.0 L742.6 450.4 L744.8 452.6 L747.1 454.7 L749.3 456.7 L751.5 458.7 L753.8 460.5 L756.0 462.3 L758.2 464.0 L760.5 465.6 L762.7 467.2 L764.9 468.6 L767.2 470.0 L769.4 471.4 L771.6 472.7 L773.9 473.9 L776.1 475.1 L778.3 476.3 L780.6 477.4 L782.8 478.4 L785.0 479.4 L787.3 480.4 L789.5 481.3 L791.7 482.2 L794.0 483.0 L796.2 483.8 L798.4 484.6 L800.7 485.4 L802.9 486.1 L805.1 486.8 L807.4 487.5 L809.6 488.1 L811.8 488.7 L814.1 489.3 L816.3 489.9 L818.5 490.4 L820.8 491.0 L823.0 491.5 L825.2 492.0 L827.5 492.4 L829.7 492.9 L831.9 493.3 L834.2 493.8 L836.4 494.2 L838.6 494.6 L840.9 495.0 L843.1 495.3 L845.3 495.7 L847.6 496.0 L849.8 496.4 L852.0 496.7 L854.3 497.0 L856.5 497.3 L858.7 497.6 L861.0 497.9 L863.2 498.1 L865.4 498.4 L867.7 498.7 L869.9 498.9 L872.1 499.1 L874.4 499.4 L876.6 499.6 L878.8 499.8 L881.1 500.0 L883.3 500.2 L885.5 500.4 L887.8 500.6 L890.0 500.8 L892.2 501.0 L894.5 501.2 L896.7 501.3 L898.9 501.5 L901.2 501.7 L903.4 501.8 L905.6 502.0 L907.9 502.1 L910.1 502.3 L912.3 502.4 L914.6 502.5 L916.8 502.7 L919.0 502.8 L921.3 502.9 L923.5 503.1 L925.7 503.2 L928.0 503.3 L930.2 503.4 L932.4 503.5 L934.7 503.6 L936.9 503.7 L939.1 503.8 L941.4 503.9 L943.6 504.0 L945.8 504.1 L948.1 504.2 L950.3 504.3 L952.5 504.4 L954.8 504.5 L957.0 504.5 L959.2 504.6 L961.5 504.7 L963.7 504.8 L965.9 504.9 L968.2 504.9 L970.4 505.0 L972.6 505.1 L974.9 505.1 L977.1 505.2 L979.3 505.3 L981.6 505.3 L983.8 505.4" fill="none" stroke="#dc2020" stroke-width="1.2"/>
<path d="M628.7 84.2 L630.9 93.7 L633.2 102.8 L635.4 111.3 L637.6 119.6 L639.9 127.6 L642.1 135.3 L644.3 143.0 L646.6 150.5 L648.8 157.9 L651.0 165.2 L653.3 172.5 L655.5 179.8 L657.7 187.0 L660.0 194.1 L662.2 201.2 L664.4 208.3 L666.7 215.2 L668.9 222.1 L671.1 228.8 L673.4 235.5 L675.6 242.0 L677.8 248.4 L680.1 254.6 L682.3 260.7 L684.5 266.6 L686.8 272.3 L689.0 277.8 L691.3 283.1 L693.5 288.2 L695.7 293.1 L698.0 297.9 L700.2 302.4 L702.4 306.8 L704.7 310.9 L706.9 314.9 L709.1 318.7 L711.4 322.3 L713.6 325.7 L715.8 329.0 L718.1 332.1 L720.3 335.0 L722.5 337.9 L724.8 340.5 L727.0 343.1 L729.2 345.5 L731.5 347.8 L733.7 349.9 L735.9 352.0 L738.2 353.9 L740.4 355.8 L742.6 357.5 L744.9 359.2 L747.1 360.8 L749.3 362.3 L751.6 363.7 L753.8 365.1 L756.0 366.4 L758.3 367.6 L760.5 368.8 L762.7 369.9 L765.0 370.9 L767.2 371.9 L769.4 372.9 L771.7 373.8 L773.9 374.7 L776.1 375.5 L778.4 376.3 L780.6 377.0 L782.8 377.7 L785.1 378.4 L787.3 379.1 L789.5 379.7 L791.8 380.3 L794.0 380.8 L796.2 381.4 L798.5 381.9 L800.7 382.4 L802.9 382.9 L805.2 383.3 L807.4 383.8 L809.7 384.2 L811.9 384.6 L814.1 384.9 L816.4 385.3 L818.6 385.7 L820.8 386.0 L823.1 386.3 L825.3 386.6 L827.5 386.9 L829.8 387.2 L832.0 387.5 L834.2 387.8 L836.5 388.0 L838.7 388.3 L840.9 388.5 L843.2 388.7 L845.4 388.9 L847.6 389.1 L849.9 389.3 L852.1 389.5 L854.3 389.7 L856.6 389.9 L858.8 390.1 L861.0 390.3 L863.3 390.4 L865.5 390.6 L867.7 390.7 L870.0 390.9 L872.2 391.0 L874.4 391.2 L876.7 391.3 L878.9 391.4 L881.1 391.5 L883.4 391.7 L885.6 391.8 L887.8 391.9 L890.1 392.0 L892.3 392.1 L894.5 392.2 L896.8 392.3 L899.0 392.4 L901.2 392.5 L903.5 392.6 L905.7 392.7 L907.9 392.7 L910.2 392.8 L912.4 392.9 L914.6 393.0 L916.9 393.1 L919.1 393.1 L921.3 393.2 L923.6 393.3 L925.8 393.3 L928.1 393.4 L930.3 393.5 L932.5 393.5 L934.8 393.6 L937.0 393.6 L939.2 393.7 L941.5 393.8 L943.7 393.8 L945.9 393.9 L948.2 393.9 L950.4 394.0 L952.6 394.0 L954.9 394.1 L957.1 394.1 L959.3 394.1 L961.6 394.2 L963.8 394.2 L966.0 394.3 L968.3 394.3 L970.5 394.3 L972.7 394.4 L975.0 394.4 L977.2 394.5 L979.4 394.5 L981.7 394.5 L983.9 394.6" fill="none" stroke="#08a8a8" stroke-width="1.2"/>
<path d="M629.1 50.6 L631.3 57.0 L633.6 63.2 L635.8 69.1 L638.0 74.8 L640.3 80.4 L642.5 85.8 L644.7 91.1 L647.0 96.2 L649.2 101.3 L651.4 106.2 L653.6 111.0 L655.9 115.8 L658.1 120.5 L660.3 125.0 L662.6 129.6 L664.8 134.0 L667.0 138.4 L669.3 142.7 L671.5 146.9 L673.7 151.1 L676.0 155.2 L678.2 159.2 L680.4 163.1 L682.7 167.0 L684.9 170.8 L687.1 174.6 L689.3 178.2 L691.6 181.8 L693.8 185.3 L696.0 188.8 L698.3 192.2 L700.5 195.4 L702.7 198.7 L705.0 201.8 L707.2 204.9 L709.4 207.8 L711.7 210.7 L713.9 213.6 L716.1 216.3 L718.4 219.0 L720.6 221.6 L722.8 224.1 L725.1 226.6 L727.3 229.0 L729.5 231.3 L731.7 233.5 L734.0 235.7 L736.2 237.8 L738.4 239.8 L740.7 241.8 L742.9 243.7 L745.1 245.6 L747.4 247.4 L749.6 249.1 L751.8 250.8 L754.1 252.4 L756.3 254.0 L758.5 255.5 L760.8 257.0 L763.0 258.4 L765.2 259.8 L767.4 261.1 L769.7 262.4 L771.9 263.6 L774.1 264.8 L776.4 266.0 L778.6 267.1 L780.8 268.2 L783.1 269.2 L785.3 270.2 L787.5 271.2 L789.8 272.1 L792.0 273.1 L794.2 273.9 L796.5 274.8 L798.7 275.6 L800.9 276.4 L803.2 277.2 L805.4 277.9 L807.6 278.6 L809.8 279.3 L812.1 280.0 L814.3 280.7 L816.5 281.3 L818.8 281.9 L821.0 282.5 L823.2 283.1 L825.5 283.6 L827.7 284.1 L829.9 284.7 L832.2 285.2 L834.4 285.7 L836.6 286.1 L838.9 286.6 L841.1 287.0 L843.3 287.5 L845.6 287.9 L847.8 288.3 L850.0 288.7 L852.2 289.0 L854.5 289.4 L856.7 289.8 L858.9 290.1 L861.2 290.4 L863.4 290.8 L865.6 291.1 L867.9 291.4 L870.1 291.7 L872.3 292.0 L874.6 292.3 L876.8 292.5 L879.0 292.8 L881.3 293.1 L883.5 293.3 L885.7 293.5 L887.9 293.8 L890.2 294.0 L892.4 294.2 L894.6 294.5 L896.9 294.7 L899.1 294.9 L901.3 295.1 L903.6 295.3 L905.8 295.5 L908.0 295.6 L910.3 295.8 L912.5 296.0 L914.7 296.2 L917.0 296.3 L919.2 296.5 L921.4 296.6 L923.7 296.8 L925.9 296.9 L928.1 297.1 L930.3 297.2 L932.6 297.4 L934.8 297.5 L937.0 297.6 L939.3 297.8 L941.5 297.9 L943.7 298.0 L946.0 298.1 L948.2 298.2 L950.4 298.4 L952.7 298.5 L954.9 298.6 L957.1 298.7 L959.4 298.8 L961.6 298.9 L963.8 299.0 L966.0 299.1 L968.3 299.2 L970.5 299.3 L972.7 299.4 L975.0 299.4 L977.2 299.5 L979.4 299.6 L981.7 299.7 L983.9 299.8" fill="none" stroke="#a21eae" stroke-width="1.2"/>
<path d="M629.1 25.0 L631.3 29.5 L633.6 33.8 L635.8 37.9 L638.0 42.0 L640.3 45.9 L642.5 49.7 L644.7 53.5 L647.0 57.1 L649.2 60.7 L651.4 64.1 L653.6 67.5 L655.9 70.8 L658.1 74.1 L660.3 77.3 L662.6 80.4 L664.8 83.4 L667.0 86.4 L669.3 89.3 L671.5 92.2 L673.7 95.0 L676.0 97.8 L678.2 100.4 L680.4 103.1 L682.7 105.7 L684.9 108.2 L687.1 110.7 L689.3 113.1 L691.6 115.5 L693.8 117.8 L696.0 120.1 L698.3 122.3 L700.5 124.5 L702.7 126.6 L705.0 128.7 L707.2 130.7 L709.4 132.7 L711.7 134.6 L713.9 136.5 L716.1 138.4 L718.4 140.2 L720.6 141.9 L722.8 143.7 L725.1 145.3 L727.3 147.0 L729.5 148.6 L731.7 150.1 L734.0 151.6 L736.2 153.1 L738.4 154.6 L740.7 156.0 L742.9 157.4 L745.1 158.7 L747.4 160.0 L749.6 161.3 L751.8 162.5 L754.1 163.7 L756.3 164.9 L758.5 166.0 L760.8 167.1 L763.0 168.2 L765.2 169.3 L767.4 170.3 L769.7 171.3 L771.9 172.3 L774.1 173.2 L776.4 174.1 L778.6 175.0 L780.8 175.9 L783.1 176.7 L785.3 177.6 L787.5 178.4 L789.8 179.1 L792.0 179.9 L794.2 180.6 L796.5 181.4 L798.7 182.1 L800.9 182.7 L803.2 183.4 L805.4 184.1 L807.6 184.7 L809.8 185.3 L812.1 185.9 L814.3 186.5 L816.5 187.0 L818.8 187.6 L821.0 188.1 L823.2 188.6 L825.5 189.1 L827.7 189.6 L829.9 190.1 L832.2 190.6 L834.4 191.0 L836.6 191.5 L838.9 191.9 L841.1 192.3 L843.3 192.8 L845.6 193.2 L847.8 193.5 L850.0 193.9 L852.2 194.3 L854.5 194.7 L856.7 195.0 L858.9 195.3 L861.2 195.7 L863.4 196.0 L865.6 196.3 L867.9 196.6 L870.1 196.9 L872.3 197.2 L874.6 197.5 L876.8 197.8 L879.0 198.1 L881.3 198.3 L883.5 198.6 L885.7 198.9 L887.9 199.1 L890.2 199.3 L892.4 199.6 L894.6 199.8 L896.9 200.0 L899.1 200.3 L901.3 200.5 L903.6 200.7 L905.8 200.9 L908.0 201.1 L910.3 201.3 L912.5 201.5 L914.7 201.6 L917.0 201.8 L919.2 202.0 L921.4 202.2 L923.7 202.4 L925.9 202.5 L928.1 202.7 L930.3 202.8 L932.6 203.0 L934.8 203.1 L937.0 203.3 L939.3 203.4 L941.5 203.6 L943.7 203.7 L946.0 203.9 L948.2 204.0 L950.4 204.1 L952.7 204.2 L954.9 204.4 L957.1 204.5 L959.4 204.6 L961.6 204.7 L963.8 204.8 L966.0 205.0 L968.3 205.1 L970.5 205.2 L972.7 205.3 L975.0 205.4 L977.2 205.5 L979.4 205.6 L981.7 205.7 L983.9 205.8" fill="none" stroke="#b8b424" stroke-width="1.2"/>
<path d="M658.3 37.7V50.1M654.8 37.7H661.8M654.8 50.1H661.8M665.4 51.1V60.3M661.9 51.1H668.9M661.9 60.3H668.9M676.1 67.2V75.2M672.6 67.2H679.6M672.6 75.2H679.6M686.6 83.5V91.1M683.1 83.5H690.1M683.1 91.1H690.1M697.2 101.3V108.5M693.7 101.3H700.7M693.7 108.5H700.7M707.7 113.7V121.7M704.2 113.7H711.2M704.2 121.7H711.2M728.2 140.2V151.2M724.7 140.2H731.7M724.7 151.2H731.7M748.9 165.1V178.5M745.4 165.1H752.4M745.4 178.5H752.4M769.6 186.4V203.2M766.1 186.4H773.1M766.1 203.2H773.1M790.3 204.9V226.5M786.8 204.9H793.8M786.8 226.5H793.8M811.0 223.4V249.4M807.5 223.4H814.5M807.5 249.4H814.5M831.7 240.2V270.2M828.2 240.2H835.2M828.2 270.2H835.2M852.3 255.4V291.0M848.8 255.4H855.8M848.8 291.0H855.8M873.0 272.7V305.7M869.5 272.7H876.5M869.5 305.7H876.5M893.6 282.2V339.2M890.1 282.2H897.1M890.1 339.2H897.1M914.3 292.5V357.5M910.8 292.5H917.8M910.8 357.5H917.8M934.9 303.2V366.8M931.4 303.2H938.4M931.4 366.8H938.4M955.5 312.5V364.5M952.0 312.5H959.0M952.0 364.5H959.0" fill="none" stroke="#1616cc" stroke-width="1.0"/>
<circle cx="658.3" cy="43.9" r="2.7" fill="none" stroke="#1616cc" stroke-width="1.1"/>
<circle cx="665.4" cy="55.7" r="2.7" fill="none" stroke="#1616cc" stroke-width="1.1"/>
<circle cx="676.1" cy="71.2" r="2.7" fill="none" stroke="#1616cc" stroke-width="1.1"/>
<circle cx="686.6" cy="87.3" r="2.7" fill="none" stroke="#1616cc" stroke-width="1.1"/>
<circle cx="697.2" cy="104.9" r="2.7" fill="none" stroke="#1616cc" stroke-width="1.1"/>
<circle cx="707.7" cy="117.7" r="2.7" fill="none" stroke="#1616cc" stroke-width="1.1"/>
<circle cx="728.2" cy="145.7" r="2.7" fill="none" stroke="#1616cc" stroke-width="1.1"/>
<circle cx="748.9" cy="171.8" r="2.7" fill="none" stroke="#1616cc" stroke-width="1.1"/>
<circle cx="769.6" cy="194.8" r="2.7" fill="none" stroke="#1616cc" stroke-width="1.1"/>
<circle cx="790.3" cy="215.7" r="2.7" fill="none" stroke="#1616cc" stroke-width="1.1"/>
<circle cx="811.0" cy="236.4" r="2.7" fill="none" stroke="#1616cc" stroke-width="1.1"/>
<circle cx="831.7" cy="255.2" r="2.7" fill="none" stroke="#1616cc" stroke-width="1.1"/>
<circle cx="852.3" cy="273.2" r="2.7" fill="none" stroke="#1616cc" stroke-width="1.1"/>
<circle cx="873.0" cy="289.2" r="2.7" fill="none" stroke="#1616cc" stroke-width="1.1"/>
<circle cx="893.6" cy="310.7" r="2.7" fill="none" stroke="#1616cc" stroke-width="1.1"/>
<circle cx="914.3" cy="325.0" r="2.7" fill="none" stroke="#1616cc" stroke-width="1.1"/>
<circle cx="934.9" cy="335.0" r="2.7" fill="none" stroke="#1616cc" stroke-width="1.1"/>
<circle cx="955.5" cy="338.5" r="2.7" fill="none" stroke="#1616cc" stroke-width="1.1"/>
<path d="M658.3 56.9V69.1M654.8 56.9H661.8M654.8 69.1H661.8M665.4 67.2V81.6M661.9 67.2H668.9M661.9 81.6H668.9M676.1 83.8V97.4M672.6 83.8H679.6M672.6 97.4H679.6M686.6 100.7V115.9M683.1 100.7H690.1M683.1 115.9H690.1M697.2 116.2V133.2M693.7 116.2H700.7M693.7 133.2H700.7M707.7 126.8V152.4M704.2 126.8H711.2M704.2 152.4H711.2M728.2 152.3V181.7M724.7 152.3H731.7M724.7 181.7H731.7M748.9 173.1V210.3M745.4 173.1H752.4M745.4 210.3H752.4M769.6 191.5V238.5M766.1 191.5H773.1M766.1 238.5H773.1M790.3 209.6V263.2M786.8 209.6H793.8M786.8 263.2H793.8M811.0 227.4V280.6M807.5 227.4H814.5M807.5 280.6H814.5M831.7 239.8V301.8M828.2 239.8H835.2M828.2 301.8H835.2M852.3 250.3V318.3M848.8 250.3H855.8M848.8 318.3H855.8M873.0 266.0V332.0M869.5 266.0H876.5M869.5 332.0H876.5M893.6 276.4V353.2M890.1 276.4H897.1M890.1 353.2H897.1M914.3 283.4V367.0M910.8 283.4H917.8M910.8 367.0H917.8M934.9 290.9V383.9M931.4 290.9H938.4M931.4 383.9H938.4M955.5 303.3V400.5M952.0 303.3H959.0M952.0 400.5H959.0" fill="none" stroke="#0c700c" stroke-width="1.0"/>
<circle cx="658.3" cy="63.0" r="3.0" fill="#0c700c"/>
<circle cx="665.4" cy="74.4" r="3.0" fill="#0c700c"/>
<circle cx="676.1" cy="90.6" r="3.0" fill="#0c700c"/>
<circle cx="686.6" cy="108.3" r="3.0" fill="#0c700c"/>
<circle cx="697.2" cy="124.7" r="3.0" fill="#0c700c"/>
<circle cx="707.7" cy="139.6" r="3.0" fill="#0c700c"/>
<circle cx="728.2" cy="167.0" r="3.0" fill="#0c700c"/>
<circle cx="748.9" cy="191.7" r="3.0" fill="#0c700c"/>
<circle cx="769.6" cy="215.0" r="3.0" fill="#0c700c"/>
<circle cx="790.3" cy="236.4" r="3.0" fill="#0c700c"/>
<circle cx="811.0" cy="254.0" r="3.0" fill="#0c700c"/>
<circle cx="831.7" cy="270.8" r="3.0" fill="#0c700c"/>
<circle cx="852.3" cy="284.3" r="3.0" fill="#0c700c"/>
<circle cx="873.0" cy="299.0" r="3.0" fill="#0c700c"/>
<circle cx="893.6" cy="314.8" r="3.0" fill="#0c700c"/>
<circle cx="914.3" cy="325.2" r="3.0" fill="#0c700c"/>
<circle cx="934.9" cy="337.4" r="3.0" fill="#0c700c"/>
<circle cx="955.5" cy="351.9" r="3.0" fill="#0c700c"/>
<path d="M658.3 234.1V253.7M654.8 234.1H661.8M654.8 253.7H661.8M665.4 267.9V283.5M661.9 267.9H668.9M661.9 283.5H668.9M676.1 307.8V320.2M672.6 307.8H679.6M672.6 320.2H679.6M686.6 342.6V353.4M683.1 342.6H690.1M683.1 353.4H690.1M697.2 368.3V381.9M693.7 368.3H700.7M693.7 381.9H700.7M707.7 393.3V404.3M704.2 393.3H711.2M704.2 404.3H711.2M728.2 422.6V439.8M724.7 422.6H731.7M724.7 439.8H731.7M748.9 446.6V458.4M745.4 446.6H752.4M745.4 458.4H752.4M769.6 458.6V476.0M766.1 458.6H773.1M766.1 476.0H773.1M790.3 468.3V486.7M786.8 468.3H793.8M786.8 486.7H793.8M811.0 474.7V502.5M807.5 474.7H814.5M807.5 502.5H814.5M831.7 476.5V508.5M828.2 476.5H835.2M828.2 508.5H835.2M852.3 482.7V512.1M848.8 482.7H855.8M848.8 512.1H855.8M873.0 485.0V517.0M869.5 485.0H876.5M893.6 489.5V517.0M890.1 489.5H897.1M914.3 483.5V517.0M910.8 483.5H917.8M934.9 483.5V517.0M931.4 483.5H938.4M955.5 481.2V517.0M952.0 481.2H959.0" fill="none" stroke="#dc2020" stroke-width="1.0"/>
<rect x="655.4" y="241.0" width="5.8" height="5.8" fill="none" stroke="#dc2020" stroke-width="1.1"/>
<rect x="662.5" y="272.8" width="5.8" height="5.8" fill="none" stroke="#dc2020" stroke-width="1.1"/>
<rect x="673.2" y="311.1" width="5.8" height="5.8" fill="none" stroke="#dc2020" stroke-width="1.1"/>
<rect x="683.7" y="345.1" width="5.8" height="5.8" fill="none" stroke="#dc2020" stroke-width="1.1"/>
<rect x="694.3" y="372.2" width="5.8" height="5.8" fill="none" stroke="#dc2020" stroke-width="1.1"/>
<rect x="704.8" y="395.9" width="5.8" height="5.8" fill="none" stroke="#dc2020" stroke-width="1.1"/>
<rect x="725.3" y="428.3" width="5.8" height="5.8" fill="none" stroke="#dc2020" stroke-width="1.1"/>
<rect x="746.0" y="449.6" width="5.8" height="5.8" fill="none" stroke="#dc2020" stroke-width="1.1"/>
<rect x="766.7" y="464.4" width="5.8" height="5.8" fill="none" stroke="#dc2020" stroke-width="1.1"/>
<rect x="787.4" y="474.6" width="5.8" height="5.8" fill="none" stroke="#dc2020" stroke-width="1.1"/>
<rect x="808.1" y="485.7" width="5.8" height="5.8" fill="none" stroke="#dc2020" stroke-width="1.1"/>
<rect x="828.8" y="489.6" width="5.8" height="5.8" fill="none" stroke="#dc2020" stroke-width="1.1"/>
<rect x="849.4" y="494.5" width="5.8" height="5.8" fill="none" stroke="#dc2020" stroke-width="1.1"/>
<rect x="870.1" y="498.4" width="5.8" height="5.8" fill="none" stroke="#dc2020" stroke-width="1.1"/>
<rect x="890.7" y="504.4" width="5.8" height="5.8" fill="none" stroke="#dc2020" stroke-width="1.1"/>
<rect x="911.4" y="503.9" width="5.8" height="5.8" fill="none" stroke="#dc2020" stroke-width="1.1"/>
<rect x="932.0" y="505.5" width="5.8" height="5.8" fill="none" stroke="#dc2020" stroke-width="1.1"/>
<rect x="952.6" y="506.2" width="5.8" height="5.8" fill="none" stroke="#dc2020" stroke-width="1.1"/>
<path d="M658.3 181.6V197.8M654.8 181.6H661.8M654.8 197.8H661.8M665.4 202.4V227.8M661.9 202.4H668.9M661.9 227.8H668.9M676.1 231.9V253.1M672.6 231.9H679.6M672.6 253.1H679.6M686.6 269.0V283.0M683.1 269.0H690.1M683.1 283.0H690.1M697.2 283.6V305.6M693.7 283.6H700.7M693.7 305.6H700.7M707.7 308.7V330.3M704.2 308.7H711.2M704.2 330.3H711.2M728.2 330.1V350.5M724.7 330.1H731.7M724.7 350.5H731.7M748.9 353.1V371.3M745.4 353.1H752.4M745.4 371.3H752.4M769.6 365.4V389.4M766.1 365.4H773.1M766.1 389.4H773.1M790.3 370.8V402.0M786.8 370.8H793.8M786.8 402.0H793.8M811.0 371.0V409.0M807.5 371.0H814.5M807.5 409.0H814.5M831.7 367.0V413.0M828.2 367.0H835.2M828.2 413.0H835.2M852.3 386.5V410.1M848.8 386.5H855.8M848.8 410.1H855.8M873.0 385.1V416.1M869.5 385.1H876.5M869.5 416.1H876.5M893.6 354.0V430.0M890.1 354.0H897.1M890.1 430.0H897.1M914.3 356.5V424.5M910.8 356.5H917.8M910.8 424.5H917.8M934.9 347.8V433.2M931.4 347.8H938.4M931.4 433.2H938.4M955.5 374.7V447.3M952.0 374.7H959.0M952.0 447.3H959.0" fill="none" stroke="#08a8a8" stroke-width="1.0"/>
<rect x="655.5" y="186.9" width="5.6" height="5.6" fill="#08a8a8"/>
<rect x="662.6" y="212.3" width="5.6" height="5.6" fill="#08a8a8"/>
<rect x="673.3" y="239.7" width="5.6" height="5.6" fill="#08a8a8"/>
<rect x="683.8" y="273.2" width="5.6" height="5.6" fill="#08a8a8"/>
<rect x="694.4" y="291.8" width="5.6" height="5.6" fill="#08a8a8"/>
<rect x="704.9" y="316.7" width="5.6" height="5.6" fill="#08a8a8"/>
<rect x="725.4" y="337.5" width="5.6" height="5.6" fill="#08a8a8"/>
<rect x="746.1" y="359.4" width="5.6" height="5.6" fill="#08a8a8"/>
<rect x="766.8" y="374.6" width="5.6" height="5.6" fill="#08a8a8"/>
<rect x="787.5" y="383.6" width="5.6" height="5.6" fill="#08a8a8"/>
<rect x="808.2" y="387.2" width="5.6" height="5.6" fill="#08a8a8"/>
<rect x="828.9" y="387.2" width="5.6" height="5.6" fill="#08a8a8"/>
<rect x="849.5" y="395.5" width="5.6" height="5.6" fill="#08a8a8"/>
<rect x="870.2" y="397.8" width="5.6" height="5.6" fill="#08a8a8"/>
<rect x="890.8" y="389.2" width="5.6" height="5.6" fill="#08a8a8"/>
<rect x="911.5" y="387.7" width="5.6" height="5.6" fill="#08a8a8"/>
<rect x="932.1" y="387.7" width="5.6" height="5.6" fill="#08a8a8"/>
<rect x="952.7" y="408.2" width="5.6" height="5.6" fill="#08a8a8"/>
<path d="M658.3 107.3V133.7M654.8 107.3H661.8M654.8 133.7H661.8M665.4 118.4V150.0M661.9 118.4H668.9M661.9 150.0H668.9M676.1 140.4V177.8M672.6 140.4H679.6M672.6 177.8H679.6M686.6 159.3V196.3M683.1 159.3H690.1M683.1 196.3H690.1M697.2 177.5V213.5M693.7 177.5H700.7M693.7 213.5H700.7M707.7 194.2V229.8M704.2 194.2H711.2M704.2 229.8H711.2M728.2 215.0V250.6M724.7 215.0H731.7M724.7 250.6H731.7M748.9 237.6V268.0M745.4 237.6H752.4M745.4 268.0H752.4M769.6 252.0V279.8M766.1 252.0H773.1M766.1 279.8H773.1M790.3 261.4V288.2M786.8 261.4H793.8M786.8 288.2H793.8M811.0 270.5V301.7M807.5 270.5H814.5M807.5 301.7H814.5M831.7 281.7V297.9M828.2 281.7H835.2M828.2 297.9H835.2M852.3 280.3V304.7M848.8 280.3H855.8M848.8 304.7H855.8M873.0 278.8V304.4M869.5 278.8H876.5M869.5 304.4H876.5M893.6 278.7V321.1M890.1 278.7H897.1M890.1 321.1H897.1M914.3 289.8V324.6M910.8 289.8H917.8M910.8 324.6H917.8M934.9 293.5V332.5M931.4 293.5H938.4M931.4 332.5H938.4M955.5 278.4V332.4M952.0 278.4H959.0M952.0 332.4H959.0" fill="none" stroke="#a21eae" stroke-width="1.0"/>
<path d="M658.3 117.4L661.7 122.7L654.9 122.7Z" fill="none" stroke="#a21eae" stroke-width="1.1" stroke-linejoin="miter"/>
<path d="M665.4 131.1L668.8 136.4L662.0 136.4Z" fill="none" stroke="#a21eae" stroke-width="1.1" stroke-linejoin="miter"/>
<path d="M676.1 156.0L679.5 161.3L672.7 161.3Z" fill="none" stroke="#a21eae" stroke-width="1.1" stroke-linejoin="miter"/>
<path d="M686.6 174.7L690.0 180.0L683.2 180.0Z" fill="none" stroke="#a21eae" stroke-width="1.1" stroke-linejoin="miter"/>
<path d="M697.2 192.4L700.6 197.7L693.8 197.7Z" fill="none" stroke="#a21eae" stroke-width="1.1" stroke-linejoin="miter"/>
<path d="M707.7 208.9L711.1 214.2L704.3 214.2Z" fill="none" stroke="#a21eae" stroke-width="1.1" stroke-linejoin="miter"/>
<path d="M728.2 229.7L731.6 235.0L724.8 235.0Z" fill="none" stroke="#a21eae" stroke-width="1.1" stroke-linejoin="miter"/>
<path d="M748.9 249.7L752.3 255.0L745.5 255.0Z" fill="none" stroke="#a21eae" stroke-width="1.1" stroke-linejoin="miter"/>
<path d="M769.6 262.8L773.0 268.1L766.2 268.1Z" fill="none" stroke="#a21eae" stroke-width="1.1" stroke-linejoin="miter"/>
<path d="M790.3 271.7L793.7 277.0L786.9 277.0Z" fill="none" stroke="#a21eae" stroke-width="1.1" stroke-linejoin="miter"/>
<path d="M811.0 283.0L814.4 288.3L807.6 288.3Z" fill="none" stroke="#a21eae" stroke-width="1.1" stroke-linejoin="miter"/>
<path d="M831.7 286.7L835.1 292.0L828.3 292.0Z" fill="none" stroke="#a21eae" stroke-width="1.1" stroke-linejoin="miter"/>
<path d="M852.3 289.4L855.7 294.7L848.9 294.7Z" fill="none" stroke="#a21eae" stroke-width="1.1" stroke-linejoin="miter"/>
<path d="M873.0 288.5L876.4 293.8L869.6 293.8Z" fill="none" stroke="#a21eae" stroke-width="1.1" stroke-linejoin="miter"/>
<path d="M893.6 296.8L897.0 302.1L890.2 302.1Z" fill="none" stroke="#a21eae" stroke-width="1.1" stroke-linejoin="miter"/>
<path d="M914.3 304.1L917.7 309.4L910.9 309.4Z" fill="none" stroke="#a21eae" stroke-width="1.1" stroke-linejoin="miter"/>
<path d="M934.9 309.9L938.3 315.2L931.5 315.2Z" fill="none" stroke="#a21eae" stroke-width="1.1" stroke-linejoin="miter"/>
<path d="M955.5 302.3L958.9 307.6L952.1 307.6Z" fill="none" stroke="#a21eae" stroke-width="1.1" stroke-linejoin="miter"/>
<path d="M658.3 66.8V82.0M654.8 66.8H661.8M654.8 82.0H661.8M665.4 77.9V93.9M661.9 77.9H668.9M661.9 93.9H668.9M676.1 85.5V109.5M672.6 85.5H679.6M672.6 109.5H679.6M686.6 99.3V122.3M683.1 99.3H690.1M683.1 122.3H690.1M697.2 115.0V133.0M693.7 115.0H700.7M693.7 133.0H700.7M707.7 122.1V140.1M704.2 122.1H711.2M704.2 140.1H711.2M728.2 143.0V160.0M724.7 143.0H731.7M724.7 160.0H731.7M748.9 152.7V169.7M745.4 152.7H752.4M745.4 169.7H752.4M769.6 163.1V182.1M766.1 163.1H773.1M766.1 182.1H773.1M790.3 169.6V191.6M786.8 169.6H793.8M786.8 191.6H793.8M811.0 176.4V200.8M807.5 176.4H814.5M807.5 200.8H814.5M831.7 179.5V202.1M828.2 179.5H835.2M828.2 202.1H835.2M852.3 183.2V205.0M848.8 183.2H855.8M848.8 205.0H855.8M873.0 186.3V212.3M869.5 186.3H876.5M869.5 212.3H876.5M893.6 188.7V220.9M890.1 188.7H897.1M890.1 220.9H897.1M914.3 190.8V222.4M910.8 190.8H917.8M910.8 222.4H917.8M934.9 189.2V225.6M931.4 189.2H938.4M931.4 225.6H938.4M955.5 194.9V219.9M952.0 194.9H959.0M952.0 219.9H959.0" fill="none" stroke="#b8b424" stroke-width="1.0"/>
<path d="M658.3 76.9L661.3 72.3L655.3 72.3Z" fill="#b8b424" stroke="#b8b424" stroke-width="0.5"/>
<path d="M665.4 88.4L668.4 83.8L662.4 83.8Z" fill="#b8b424" stroke="#b8b424" stroke-width="0.5"/>
<path d="M676.1 100.0L679.1 95.4L673.1 95.4Z" fill="#b8b424" stroke="#b8b424" stroke-width="0.5"/>
<path d="M686.6 113.3L689.6 108.7L683.6 108.7Z" fill="#b8b424" stroke="#b8b424" stroke-width="0.5"/>
<path d="M697.2 126.5L700.2 121.9L694.2 121.9Z" fill="#b8b424" stroke="#b8b424" stroke-width="0.5"/>
<path d="M707.7 133.6L710.7 129.0L704.7 129.0Z" fill="#b8b424" stroke="#b8b424" stroke-width="0.5"/>
<path d="M728.2 154.0L731.2 149.4L725.2 149.4Z" fill="#b8b424" stroke="#b8b424" stroke-width="0.5"/>
<path d="M748.9 163.7L751.9 159.1L745.9 159.1Z" fill="#b8b424" stroke="#b8b424" stroke-width="0.5"/>
<path d="M769.6 175.1L772.6 170.5L766.6 170.5Z" fill="#b8b424" stroke="#b8b424" stroke-width="0.5"/>
<path d="M790.3 183.1L793.3 178.5L787.3 178.5Z" fill="#b8b424" stroke="#b8b424" stroke-width="0.5"/>
<path d="M811.0 191.1L814.0 186.5L808.0 186.5Z" fill="#b8b424" stroke="#b8b424" stroke-width="0.5"/>
<path d="M831.7 193.3L834.7 188.7L828.7 188.7Z" fill="#b8b424" stroke="#b8b424" stroke-width="0.5"/>
<path d="M852.3 196.6L855.3 192.0L849.3 192.0Z" fill="#b8b424" stroke="#b8b424" stroke-width="0.5"/>
<path d="M873.0 201.8L876.0 197.2L870.0 197.2Z" fill="#b8b424" stroke="#b8b424" stroke-width="0.5"/>
<path d="M893.6 207.3L896.6 202.7L890.6 202.7Z" fill="#b8b424" stroke="#b8b424" stroke-width="0.5"/>
<path d="M914.3 209.1L917.3 204.5L911.3 204.5Z" fill="#b8b424" stroke="#b8b424" stroke-width="0.5"/>
<path d="M934.9 209.9L937.9 205.3L931.9 205.3Z" fill="#b8b424" stroke="#b8b424" stroke-width="0.5"/>
<path d="M955.5 209.9L958.5 205.3L952.5 205.3Z" fill="#b8b424" stroke="#b8b424" stroke-width="0.5"/>
<text x="372.5" y="44.9" font-size="18" fill="#1616b8">ROI</text>
<text x="414.2" y="44.9" font-size="18" fill="#1616b8">1</text>
<path d="M430.8 38.6H469.9" stroke="#1616cc" stroke-width="1.15"/>
<circle cx="450.2" cy="38.6" r="2.7" fill="none" stroke="#1616cc" stroke-width="1.1"/>
<text x="372.5" y="72.6" font-size="18" fill="#147414">ROI</text>
<text x="414.2" y="72.6" font-size="18" fill="#147414">2</text>
<path d="M430.8 66.3H469.9" stroke="#0c700c" stroke-width="1.15"/>
<circle cx="450.2" cy="66.3" r="3.0" fill="#0c700c"/>
<text x="372.5" y="100.3" font-size="18" fill="#d41e1e">ROI</text>
<text x="414.2" y="100.3" font-size="18" fill="#d41e1e">3</text>
<path d="M430.8 94.0H469.9" stroke="#dc2020" stroke-width="1.15"/>
<rect x="447.3" y="91.1" width="5.8" height="5.8" fill="none" stroke="#dc2020" stroke-width="1.1"/>
<text x="372.5" y="128.0" font-size="18" fill="#10a6a6">ROI</text>
<text x="414.2" y="128.0" font-size="18" fill="#10a6a6">4</text>
<path d="M430.8 121.7H469.9" stroke="#08a8a8" stroke-width="1.15"/>
<rect x="447.4" y="118.9" width="5.6" height="5.6" fill="#08a8a8"/>
<text x="372.5" y="155.7" font-size="18" fill="#9c1ca6">ROI</text>
<text x="414.2" y="155.7" font-size="18" fill="#9c1ca6">5</text>
<path d="M430.8 149.4H469.9" stroke="#a21eae" stroke-width="1.15"/>
<path d="M450.2 146.3L453.6 151.6L446.8 151.6Z" fill="none" stroke="#a21eae" stroke-width="1.1" stroke-linejoin="miter"/>
<text x="372.5" y="183.4" font-size="18" fill="#aaa826">ROI</text>
<text x="414.2" y="183.4" font-size="18" fill="#aaa826">6</text>
<path d="M430.8 177.1H469.9" stroke="#b8b424" stroke-width="1.15"/>
<path d="M450.2 179.6L453.2 175.0L447.2 175.0Z" fill="#b8b424" stroke="#b8b424" stroke-width="0.5"/>
<text x="887.3" y="44.9" font-size="18" fill="#1616b8">ROI</text>
<text x="929.0" y="44.9" font-size="18" fill="#1616b8">1</text>
<path d="M945.5999999999999 38.6H984.6999999999999" stroke="#1616cc" stroke-width="1.15"/>
<circle cx="965.0" cy="38.6" r="2.7" fill="none" stroke="#1616cc" stroke-width="1.1"/>
<text x="887.3" y="72.6" font-size="18" fill="#147414">ROI</text>
<text x="929.0" y="72.6" font-size="18" fill="#147414">2</text>
<path d="M945.5999999999999 66.3H984.6999999999999" stroke="#0c700c" stroke-width="1.15"/>
<circle cx="965.0" cy="66.3" r="3.0" fill="#0c700c"/>
<text x="887.3" y="100.3" font-size="18" fill="#d41e1e">ROI</text>
<text x="929.0" y="100.3" font-size="18" fill="#d41e1e">3</text>
<path d="M945.5999999999999 94.0H984.6999999999999" stroke="#dc2020" stroke-width="1.15"/>
<rect x="962.1" y="91.1" width="5.8" height="5.8" fill="none" stroke="#dc2020" stroke-width="1.1"/>
<text x="887.3" y="128.0" font-size="18" fill="#10a6a6">ROI</text>
<text x="929.0" y="128.0" font-size="18" fill="#10a6a6">4</text>
<path d="M945.5999999999999 121.7H984.6999999999999" stroke="#08a8a8" stroke-width="1.15"/>
<rect x="962.2" y="118.9" width="5.6" height="5.6" fill="#08a8a8"/>
<text x="887.3" y="155.7" font-size="18" fill="#9c1ca6">ROI</text>
<text x="929.0" y="155.7" font-size="18" fill="#9c1ca6">5</text>
<path d="M945.5999999999999 149.4H984.6999999999999" stroke="#a21eae" stroke-width="1.15"/>
<path d="M965.0 146.3L968.4 151.6L961.6 151.6Z" fill="none" stroke="#a21eae" stroke-width="1.1" stroke-linejoin="miter"/>
<text x="887.3" y="183.4" font-size="18" fill="#aaa826">ROI</text>
<text x="929.0" y="183.4" font-size="18" fill="#aaa826">6</text>
<path d="M945.5999999999999 177.1H984.6999999999999" stroke="#b8b424" stroke-width="1.15"/>
<path d="M965.0 179.6L968.0 175.0L962.0 175.0Z" fill="#b8b424" stroke="#b8b424" stroke-width="0.5"/>
<text x="29" y="579.5" font-size="23">(a)</text>
<text x="122.5" y="583.5" font-size="23">Square root of diffusion time <tspan font-family="Liberation Serif">τ</tspan><tspan dx="12.8">(s</tspan><tspan dx="1" dy="-10.6" font-size="18.4">1/2</tspan><tspan dy="10.6">)</tspan></text>
<text transform="translate(27 415.3) rotate(-90)" font-size="23">Diffusion coefficient D<tspan dx="12.8">(µm</tspan><tspan dx="1" dy="-10.6" font-size="18.4">2</tspan><tspan dy="10.6">/s)</tspan></text>
<text x="543.8" y="579.5" font-size="23">(b)</text>
<text x="637.3" y="583.5" font-size="23">Square root of diffusion time <tspan font-family="Liberation Serif">τ</tspan><tspan dx="12.8">(s</tspan><tspan dx="1" dy="-10.6" font-size="18.4">1/2</tspan><tspan dy="10.6">)</tspan></text>
<text transform="translate(541.8 415.3) rotate(-90)" font-size="23">Diffusion coefficient D<tspan dx="12.8">(µm</tspan><tspan dx="1" dy="-10.6" font-size="18.4">2</tspan><tspan dy="10.6">/s)</tspan></text>
</svg>
</body></html>
